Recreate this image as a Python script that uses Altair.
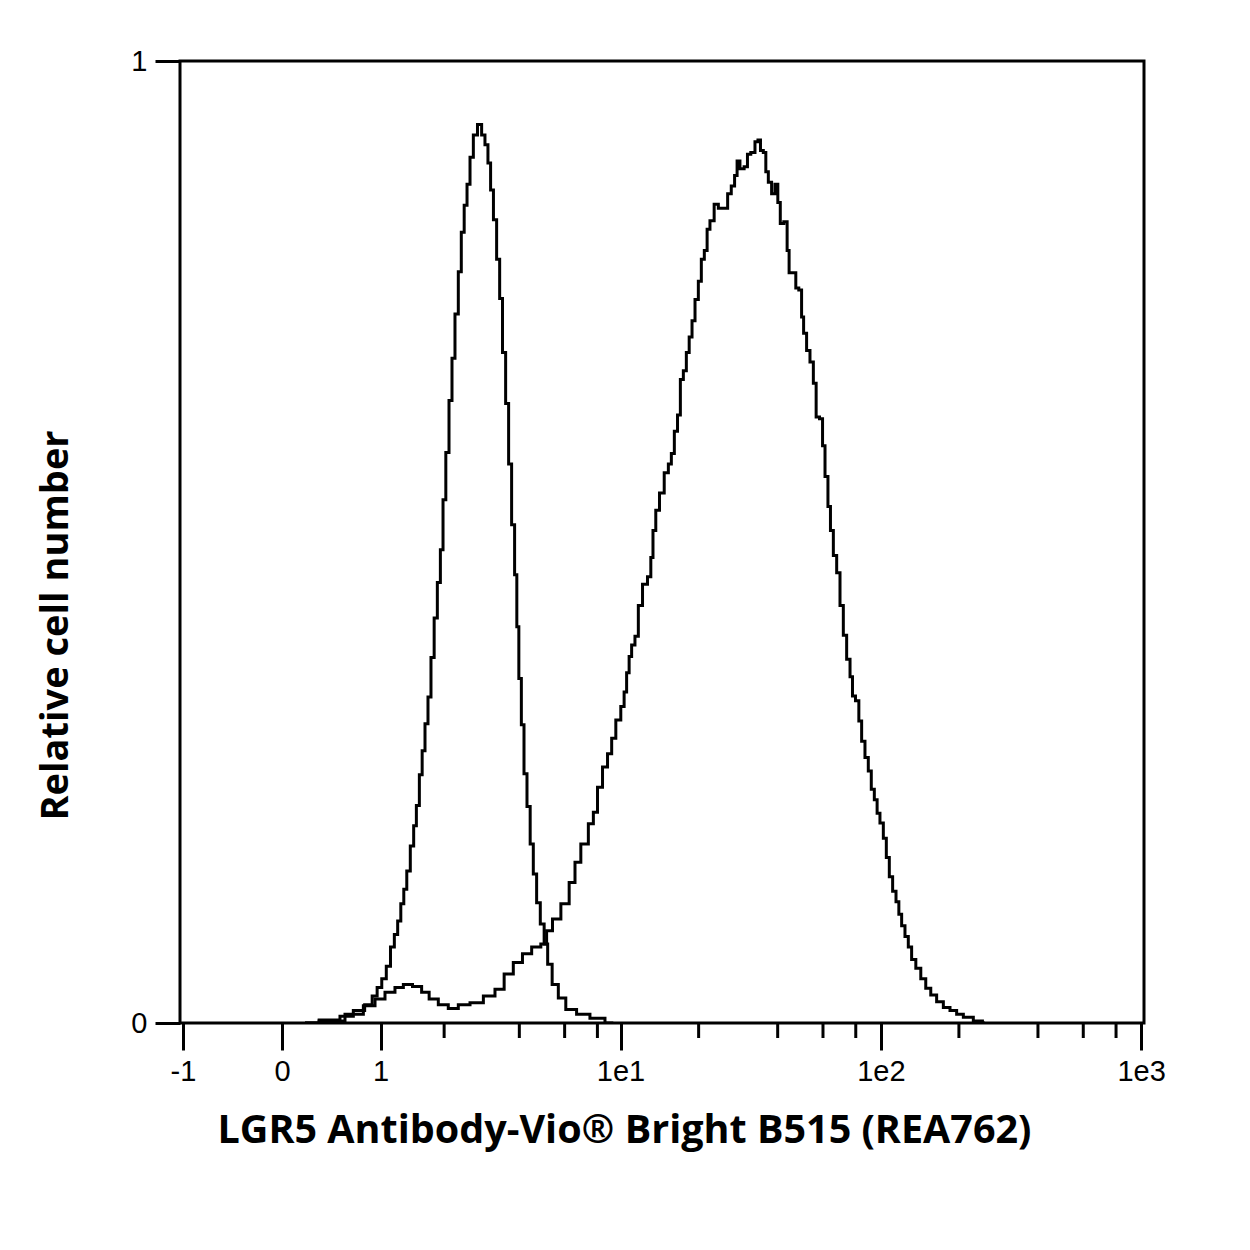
import altair as alt
import pandas as pd

# x in display-channel units (0..1000 across the axis), y = relative cell number
control_x = [129.7, 159.0, 172.9, 186.7, 196.4, 202.3, 206.7, 211.9, 216.1, 220.6, 224.1, 227.5,
             230.6, 233.7, 236.8, 241.0, 243.8, 246.6, 250.0, 252.4, 255.9, 258.6, 262.1, 265.2,
             268.7, 271.5, 274.2, 277.3, 280.8, 283.5, 287.0, 290.4, 293.2, 296.4, 299.1, 302.6,
             306.0, 311.2, 314.6, 318.1, 320.8, 323.6, 326.7, 330.2, 333.0, 336.1, 339.5, 342.3,
             345.7, 348.5, 350.3, 352.7, 355.5, 358.2, 361.7, 364.8, 368.2, 371.7, 375.8, 379.7,
             383.1, 389.0, 395.9, 404.5, 418.3, 432.2, 449.5]
control_y = [0.000, 0.003, 0.007, 0.013, 0.019, 0.028, 0.037, 0.046, 0.059, 0.079, 0.092, 0.106,
             0.124, 0.139, 0.158, 0.184, 0.205, 0.226, 0.258, 0.283, 0.311, 0.339, 0.380, 0.421,
             0.458, 0.492, 0.544, 0.593, 0.647, 0.691, 0.737, 0.781, 0.822, 0.850, 0.872, 0.900,
             0.923, 0.934, 0.923, 0.913, 0.894, 0.866, 0.835, 0.794, 0.753, 0.697, 0.644, 0.581,
             0.518, 0.466, 0.412, 0.358, 0.310, 0.259, 0.225, 0.186, 0.155, 0.125, 0.103, 0.082,
             0.061, 0.040, 0.026, 0.014, 0.009, 0.005, 0.000]

stained_x = [129.7, 159.0, 183.3, 197.1, 207.5, 217.8, 228.2, 235.2, 247.2, 254.1, 262.8, 273.1,
             283.5, 293.9, 307.8, 321.6, 331.9, 340.6, 350.9, 359.6, 370.0, 378.6, 382.0, 390.8,
             399.4, 408.0, 411.5, 420.1, 427.1, 430.5, 435.7, 440.9, 446.1, 449.5, 454.7, 459.8,
             461.6, 465.0, 466.8, 470.2, 473.7, 477.2, 482.4, 487.5, 489.3, 492.0, 495.1, 499.7,
             504.9, 508.3, 511.1, 514.5, 517.7, 520.4, 523.9, 526.6, 529.8, 532.5, 536.0, 539.4,
             542.2, 545.6, 548.0, 551.5, 556.7, 560.2, 566.4, 569.8, 573.9, 576.7, 579.1, 582.6,
             587.8, 589.5, 594.7, 598.2, 600.9, 603.4, 606.8, 608.6, 612.0, 615.4, 619.0, 621.3,
             624.1, 628.6, 631.0, 632.7, 637.9, 639.7, 644.1, 645.5, 648.3, 651.7, 655.3, 658.7,
             661.1, 665.7, 667.4, 670.8, 673.5, 676.0, 679.5, 682.9, 686.4, 689.8, 693.3, 696.8,
             698.4, 703.0, 705.4, 708.8, 712.3, 715.7, 718.5, 722.0, 724.3, 727.9, 731.3, 734.1,
             737.5, 741.0, 744.5, 746.9, 750.3, 753.8, 757.2, 760.7, 765.9, 771.0, 776.2, 781.4,
             788.4, 795.3, 802.2, 809.1, 816.1, 829.8, 835.0]
stained_y = [0.000, 0.002, 0.009, 0.018, 0.025, 0.032, 0.037, 0.040, 0.038, 0.032, 0.025, 0.019,
             0.015, 0.019, 0.021, 0.028, 0.035, 0.051, 0.063, 0.072, 0.079, 0.082, 0.096, 0.108,
             0.124, 0.146, 0.167, 0.186, 0.207, 0.219, 0.245, 0.266, 0.280, 0.296, 0.315, 0.329,
             0.344, 0.364, 0.381, 0.393, 0.402, 0.434, 0.456, 0.464, 0.484, 0.512, 0.533, 0.551,
             0.572, 0.581, 0.592, 0.615, 0.632, 0.669, 0.678, 0.697, 0.713, 0.730, 0.752, 0.771,
             0.794, 0.803, 0.825, 0.834, 0.851, 0.847, 0.847, 0.862, 0.870, 0.881, 0.896, 0.888,
             0.890, 0.903, 0.905, 0.916, 0.918, 0.907, 0.905, 0.885, 0.874, 0.862, 0.872, 0.853,
             0.831, 0.833, 0.803, 0.780, 0.780, 0.764, 0.762, 0.734, 0.717, 0.699, 0.687, 0.665,
             0.630, 0.628, 0.600, 0.568, 0.537, 0.512, 0.486, 0.468, 0.434, 0.403, 0.378, 0.360,
             0.340, 0.335, 0.314, 0.293, 0.276, 0.262, 0.243, 0.232, 0.218, 0.208, 0.192, 0.172,
             0.152, 0.137, 0.126, 0.113, 0.101, 0.090, 0.079, 0.066, 0.057, 0.046, 0.036, 0.029,
             0.022, 0.016, 0.013, 0.009, 0.006, 0.002, 0.000]

major_tick_pos = [3, 106, 208, 457, 727, 997]
major_tick_labels = ["-1", "0", "1", "1e1", "1e2", "1e3"]
minor_tick_pos = [274, 352, 399, 433, 538, 620, 667, 701, 808, 890, 937, 971]
y_tick_pos = [0, 1]
y_tick_labels = ["0", "1"]

W, H = 964, 962

rows = []
for i, (x, y) in enumerate(zip(control_x, control_y)):
    rows.append({"series": "control", "idx": i, "x": x, "y": y})
for i, (x, y) in enumerate(zip(stained_x, stained_y)):
    rows.append({"series": "stained", "idx": i, "x": x, "y": y})
df = pd.DataFrame(rows)

def label_expr(vals, labs):
    expr = "''"
    for v, l in zip(reversed(vals), reversed(labs)):
        expr = f"datum.value == {v} ? '{l}' : ({expr})"
    return expr

xscale = alt.Scale(domain=[0, 1000], nice=False, zero=False)
yscale = alt.Scale(domain=[0, 1], nice=False, zero=False)

lines = alt.Chart(df).mark_line(color="black", strokeWidth=3, interpolate="step", clip=True).encode(
    x=alt.X("x:Q", scale=xscale, axis=alt.Axis(
        values=major_tick_pos, labelExpr=label_expr(major_tick_pos, major_tick_labels),
        tickSize=27, tickWidth=3, tickColor="black", domain=False, grid=False,
        labelFont="Liberation Sans", labelFontSize=29, labelColor="black", labelPadding=7,
        labelFlush=False, labelOverlap=False,
        title="LGR5 Antibody-Vio® Bright B515 (REA762)",
        titleFont="Open Sans", titleFontSize=39.5, titleFontWeight="bold", titleColor="black",
        titleX=444, titleY=107, titleAlign="center", titleBaseline="middle")),
    y=alt.Y("y:Q", scale=yscale, axis=alt.Axis(
        values=y_tick_pos, labelExpr=label_expr(y_tick_pos, y_tick_labels),
        tickSize=25, tickWidth=3, tickColor="black", domain=False, grid=False,
        labelFont="Liberation Sans", labelFontSize=29, labelColor="black", labelPadding=8,
        labelFlush=False, labelOverlap=False,
        title="Relative cell number",
        titleFont="Open Sans", titleFontSize=38, titleFontWeight="bold", titleColor="black",
        titleX=-124, titleY=564, titleAngle=-90, titleAlign="center", titleBaseline="middle")),
    detail="series:N",
    order="idx:Q",
)

minor = alt.Chart(pd.DataFrame({"m": minor_tick_pos})).mark_rule(color="black", strokeWidth=3).encode(
    x=alt.X("m:Q", scale=xscale),
    y=alt.value(H),
    y2=alt.value(H + 15),
)

chart = alt.layer(lines, minor).properties(
    width=W, height=H,
    background="white",
    autosize=alt.AutoSizeParams(type="none"),
    padding={"left": 172, "top": 53, "right": 90, "bottom": 200},
).configure_view(stroke="black", strokeWidth=3)

chart.save("out.html", embed_options={"renderer": "svg", "actions": False})
